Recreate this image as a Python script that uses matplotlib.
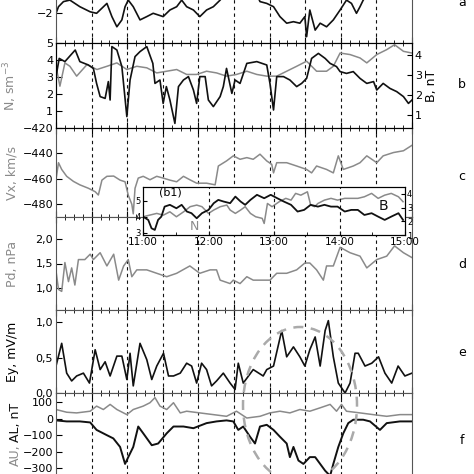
import numpy as np
import matplotlib
matplotlib.use("Agg")
import matplotlib.pyplot as plt
from matplotlib.patches import Ellipse

# values; x is in time units of the dashed grid (0..10)

bz_x = [0.00, 0.07, 0.21, 0.39, 0.67, 0.96, 1.14, 1.29, 1.43, 1.57, 1.71, 1.85, 1.94, 2.03, 2.17, 2.36, 2.55, 2.73, 3.01, 3.20, 3.39, 3.53, 3.67, 3.86, 4.04, 4.23, 4.42, 4.61, 5.0, 5.5, 5.73, 5.92, 6.11, 6.29, 6.48, 6.67, 6.85, 6.99, 7.04, 7.13, 7.28, 7.42, 7.60, 7.79, 7.98, 8.16, 8.30, 8.44, 8.54, 8.63, 9.0, 9.5, 10.0]
bz_y = [-2.01, -1.79, -1.62, -1.57, -1.79, -1.96, -2.01, -1.84, -1.68, -2.12, -2.46, -2.23, -1.79, -1.57, -1.79, -2.23, -2.12, -2.01, -2.12, -1.90, -1.79, -1.57, -1.79, -1.90, -2.12, -1.90, -1.79, -1.57, -1.0, -1.0, -1.62, -1.68, -1.79, -2.12, -2.34, -2.29, -2.34, -2.12, -2.79, -1.90, -2.57, -2.34, -2.46, -2.23, -1.90, -1.57, -1.68, -2.01, -1.79, -1.57, -1.0, -1.0, -1.0]

b_x = [0.00, 0.09, 0.25, 0.54, 0.67, 0.91, 1.05, 1.14, 1.24, 1.38, 1.47, 1.52, 1.57, 1.71, 1.85, 1.99, 2.08, 2.22, 2.36, 2.55, 2.72, 2.78, 2.92, 3.01, 3.10, 3.20, 3.34, 3.44, 3.58, 3.72, 3.86, 3.95, 4.04, 4.19, 4.28, 4.42, 4.61, 4.70, 4.79, 4.94, 5.03, 5.17, 5.36, 5.64, 5.92, 6.01, 6.11, 6.20, 6.39, 6.57, 6.76, 6.90, 7.04, 7.18, 7.37, 7.56, 7.70, 7.88, 7.98, 8.16, 8.35, 8.54, 8.73, 8.92, 9.01, 9.19, 9.38, 9.57, 9.76, 9.90, 10.00]
b_y = [2.92, 3.83, 3.67, 4.25, 3.67, 3.50, 3.33, 2.58, 1.92, 1.83, 2.67, 1.75, 4.42, 4.25, 3.42, 0.92, 2.75, 3.92, 4.17, 4.42, 3.58, 2.58, 2.75, 1.58, 2.42, 1.75, 0.58, 2.42, 2.75, 2.92, 2.25, 1.58, 2.92, 2.92, 1.75, 1.42, 1.92, 2.42, 3.33, 2.08, 2.75, 2.58, 3.58, 3.67, 3.50, 2.58, 1.25, 2.92, 2.92, 2.75, 2.42, 2.58, 2.83, 3.83, 4.08, 3.83, 3.58, 3.42, 3.17, 3.08, 3.17, 2.83, 2.58, 2.67, 2.25, 2.58, 2.33, 2.17, 1.92, 1.58, 1.75]

n_x = [0.00, 0.11, 0.25, 0.39, 0.58, 0.87, 1.15, 1.43, 1.71, 1.99, 2.27, 2.55, 2.83, 3.11, 3.39, 3.67, 3.95, 4.23, 4.51, 4.79, 5.07, 5.36, 5.64, 5.92, 6.20, 6.48, 6.76, 7.04, 7.32, 7.60, 7.79, 7.98, 8.26, 8.54, 8.73, 9.01, 9.29, 9.51, 9.76, 10.00]
n_y = [3.63, 2.46, 3.83, 3.63, 3.05, 3.73, 3.44, 3.63, 3.83, 3.44, 3.63, 3.54, 3.24, 3.34, 3.44, 3.15, 3.15, 3.34, 3.24, 3.05, 3.15, 3.34, 3.15, 3.05, 3.05, 3.34, 3.63, 3.93, 3.34, 3.34, 3.63, 4.41, 4.32, 4.12, 3.83, 4.32, 4.61, 4.90, 4.51, 4.41]

vx_x = [0.00, 0.07, 0.16, 0.30, 0.49, 0.67, 0.91, 1.10, 1.19, 1.29, 1.43, 1.62, 1.80, 1.94, 2.03, 2.13, 2.17, 2.22, 2.31, 2.45, 2.64, 2.83, 3.01, 3.20, 3.39, 3.58, 3.76, 3.95, 4.23, 4.47, 4.56, 4.79, 4.98, 5.17, 5.36, 5.54, 5.73, 5.92, 6.06, 6.11, 6.20, 6.48, 6.76, 7.04, 7.18, 7.32, 7.60, 7.79, 7.93, 8.07, 8.35, 8.54, 8.73, 9.01, 9.19, 9.48, 9.76, 10.00]
vx_y = [-460.6, -447.3, -452.6, -458.0, -462.0, -464.7, -467.4, -470.1, -472.7, -461.0, -458.0, -457.8, -461.0, -462.3, -472.9, -480.0, -487.5, -467.4, -459.4, -458.0, -460.7, -458.0, -459.4, -461.0, -462.3, -458.0, -460.7, -463.4, -463.4, -464.7, -449.9, -445.9, -441.9, -444.6, -443.3, -444.6, -440.6, -445.9, -448.6, -455.3, -447.3, -447.3, -449.9, -452.6, -455.3, -449.9, -452.6, -455.3, -441.9, -452.6, -449.9, -447.3, -441.9, -447.3, -441.9, -439.3, -437.9, -433.6]

pd_x = [0.00, 0.07, 0.16, 0.25, 0.35, 0.44, 0.53, 0.63, 0.81, 0.96, 1.05, 1.24, 1.43, 1.62, 1.76, 1.90, 2.03, 2.13, 2.27, 2.55, 2.83, 3.11, 3.39, 3.76, 4.04, 4.33, 4.51, 4.61, 4.89, 4.98, 5.17, 5.36, 5.54, 5.73, 6.01, 6.20, 6.48, 6.76, 6.99, 7.13, 7.32, 7.51, 7.60, 7.79, 7.98, 8.26, 8.54, 8.73, 9.01, 9.29, 9.51, 9.76, 10.00]
pd_y = [1.35, 0.97, 0.93, 1.52, 1.13, 1.41, 1.06, 1.58, 1.58, 1.69, 1.58, 1.72, 1.45, 1.69, 1.16, 1.45, 1.58, 1.23, 1.37, 1.37, 1.30, 1.23, 1.30, 1.45, 1.30, 1.37, 1.37, 1.16, 1.09, 1.16, 1.09, 1.23, 1.16, 1.16, 1.16, 1.30, 1.30, 1.37, 1.51, 1.51, 1.37, 1.16, 1.45, 1.45, 1.83, 1.72, 1.65, 1.41, 1.58, 1.65, 1.86, 1.72, 1.62]

ey_x = [0.00, 0.16, 0.30, 0.44, 0.58, 0.77, 0.94, 1.10, 1.24, 1.38, 1.52, 1.71, 1.85, 1.99, 2.08, 2.17, 2.36, 2.55, 2.69, 2.83, 3.02, 3.16, 3.30, 3.49, 3.67, 3.81, 3.95, 4.09, 4.23, 4.37, 4.51, 4.70, 4.89, 5.03, 5.12, 5.26, 5.54, 5.82, 5.92, 6.11, 6.34, 6.48, 6.67, 6.85, 6.99, 7.13, 7.28, 7.42, 7.56, 7.65, 7.79, 7.93, 8.12, 8.26, 8.40, 8.49, 8.68, 8.87, 9.06, 9.24, 9.43, 9.61, 9.80, 10.00]
ey_y = [0.38, 0.70, 0.28, 0.17, 0.24, 0.28, 0.14, 0.61, 0.33, 0.44, 0.24, 0.52, 0.52, 0.19, 0.56, 0.10, 0.70, 0.47, 0.19, 0.38, 0.56, 0.24, 0.24, 0.28, 0.42, 0.38, 0.14, 0.42, 0.33, 0.10, 0.17, 0.28, 0.14, 0.05, 0.42, 0.14, 0.33, 0.24, 0.33, 0.38, 0.88, 0.51, 0.65, 0.51, 0.38, 0.61, 0.79, 0.38, 0.88, 1.02, 0.51, 0.14, 0.00, 0.14, 0.56, 0.56, 0.38, 0.42, 0.51, 0.28, 0.14, 0.38, 0.24, 0.28]

au_x = [0.00, 0.30, 0.58, 0.96, 1.14, 1.33, 1.52, 1.71, 1.99, 2.17, 2.45, 2.64, 2.78, 2.92, 3.11, 3.30, 3.49, 3.67, 4.04, 4.42, 4.79, 5.07, 5.36, 5.73, 6.01, 6.29, 6.57, 6.85, 7.13, 7.42, 7.70, 7.88, 8.02, 8.16, 8.54, 8.91, 9.29, 9.66, 10.00]
au_y = [55.4, 39.0, 34.9, 45.1, 75.9, 55.4, 86.2, 55.4, 24.6, 55.4, 75.9, 96.4, 127.2, 75.9, 55.4, 96.4, 34.9, 45.1, 34.9, 24.6, 14.4, 45.1, 4.1, 14.4, 34.9, 45.1, 34.9, 55.4, 45.1, 65.6, 86.2, 45.1, 86.2, 45.1, 34.9, 24.6, 14.4, 24.6, 24.6]

al_x = [0.00, 0.30, 0.67, 0.96, 1.14, 1.42, 1.61, 1.80, 1.94, 2.03, 2.17, 2.31, 2.45, 2.69, 2.87, 3.11, 3.30, 3.58, 3.86, 4.23, 4.51, 4.79, 4.98, 5.12, 5.26, 5.45, 5.59, 5.73, 5.92, 6.11, 6.29, 6.48, 6.57, 6.67, 6.81, 6.95, 7.13, 7.28, 7.42, 7.56, 7.70, 7.79, 7.93, 8.07, 8.21, 8.35, 8.63, 8.82, 9.10, 9.29, 9.66, 10.00]
al_y = [-10.3, -16.4, -16.4, -22.6, -67.7, -98.5, -118.9, -170.3, -272.8, -231.8, -170.3, -47.2, -88.2, -160.0, -149.7, -88.2, -47.2, -47.2, -57.4, -26.7, -16.4, -10.3, -16.4, -67.7, -47.2, -108.7, -149.7, -47.2, -36.9, -67.7, -108.7, -149.7, -231.8, -170.3, -252.3, -272.8, -231.8, -231.8, -272.8, -313.8, -344.6, -272.8, -170.3, -88.2, -26.7, -6.2, -6.2, -16.4, -67.7, -26.7, -16.4, -16.4]

# inset (b1): hours 11..15
ib_x = [11.00, 11.08, 11.13, 11.18, 11.23, 11.28, 11.33, 11.41, 11.51, 11.59, 11.67, 11.74, 11.82, 11.90, 12.00, 12.08, 12.15, 12.23, 12.33, 12.41, 12.49, 12.56, 12.64, 12.74, 12.85, 12.95, 13.05, 13.15, 13.26, 13.36, 13.46, 13.56, 13.67, 13.77, 13.87, 13.97, 14.08, 14.18, 14.28, 14.38, 14.49, 14.59, 14.69, 14.79, 14.90, 14.97]
ib_y = [2.34, 2.10, 1.49, 1.37, 2.10, 2.34, 3.07, 3.20, 2.95, 3.20, 2.71, 2.59, 2.22, 2.59, 2.83, 3.32, 3.56, 3.44, 3.32, 3.80, 3.44, 3.20, 3.56, 3.93, 3.68, 3.93, 3.68, 3.44, 3.20, 2.71, 2.83, 3.20, 3.07, 3.20, 3.07, 3.07, 2.71, 2.83, 2.83, 2.46, 2.59, 2.34, 2.10, 2.34, 2.59, 2.10]

in_x = [11.00, 11.10, 11.21, 11.31, 11.41, 11.51, 11.62, 11.72, 11.82, 11.90, 12.00, 12.08, 12.18, 12.28, 12.33, 12.41, 12.49, 12.56, 12.64, 12.72, 12.82, 12.85, 12.90, 12.97, 13.08, 13.18, 13.26, 13.33, 13.41, 13.51, 13.56, 13.62, 13.67, 13.77, 13.87, 13.97, 14.08, 14.18, 14.28, 14.38, 14.49, 14.59, 14.69, 14.79, 14.90, 14.97]
in_y = [4.00, 4.10, 4.21, 4.10, 4.31, 4.00, 4.31, 4.63, 4.73, 4.63, 4.21, 4.42, 4.63, 4.73, 4.42, 4.21, 4.42, 4.63, 4.21, 4.00, 3.90, 3.58, 4.83, 4.63, 4.94, 5.15, 5.04, 5.46, 5.35, 5.56, 4.73, 4.63, 4.83, 5.04, 5.15, 5.04, 5.15, 5.15, 5.15, 5.25, 5.46, 5.15, 5.35, 5.46, 5.25, 4.94]

BLACK = "#111111"
GREY = "#8a8a8a"
W = H = 474

fig = plt.figure(figsize=(4.74, 4.74), dpi=100)


def rect(x0, y0, x1, y1):
    return [x0 / W, 1 - y1 / H, (x1 - x0) / W, (y1 - y0) / H]


def style(ax):
    ax.set_xlim(0, 10)
    ax.set_xticks(range(11))
    ax.set_xticks(np.arange(0, 10.01, 0.25), minor=True)
    ax.tick_params(direction="in", labelsize=8, length=4, top=True, pad=2)
    ax.tick_params(which="minor", direction="in", length=2, top=True)
    ax.set_xticklabels([])
    for s in ax.spines.values():
        s.set_color("#555555")
    for k in range(1, 10):
        ax.axvline(k, color=BLACK, ls=(0, (3, 3)), lw=0.8)
    ax.yaxis.set_label_coords(-0.105, 0.5)


x0, x1 = 56, 412
axa = fig.add_axes(rect(x0, -77, x1, 43))
axb = fig.add_axes(rect(x0, 43, x1, 128))
axc = fig.add_axes(rect(x0, 128, x1, 217))
axd = fig.add_axes(rect(x0, 217, x1, 310))
axe = fig.add_axes(rect(x0, 310, x1, 393))
axf = fig.add_axes(rect(x0, 393, x1, 485))
for ax in (axa, axb, axc, axd, axe, axf):
    style(ax)

axa.plot(bz_x, bz_y, color=BLACK, lw=1.2)
axa.set_ylim(-3, 1)
axa.set_yticks([-2])
axa.set_ylabel("Bz", fontsize=9)
axa.yaxis.set_label_coords(-0.105, 0.75)

axb.plot(n_x, n_y, color=GREY, lw=1.1)
axb.set_ylim(0, 5)
axb.set_yticks([1, 2, 3, 4, 5])
axb.set_ylabel("N, sm$^{-3}$", color=GREY, fontsize=9)
axb2 = axb.twinx()
axb2.plot(b_x, b_y, color=BLACK, lw=1.2)
axb2.set_ylim(0.35, 4.6)
axb2.set_yticks([1, 2, 3, 4])
axb2.tick_params(direction="in", labelsize=8, pad=2)
axb2.set_ylabel("B, nT", fontsize=9, labelpad=2)

axc.plot(vx_x, vx_y, color=GREY, lw=1.1)
axc.set_ylim(-490, -420)
axc.set_yticks([-480, -460, -440, -420])
axc.set_ylabel("Vx, km/s", color=GREY, fontsize=9)

axd.plot(pd_x, pd_y, color=GREY, lw=1.1)
axd.set_ylim(0.55, 2.45)
axd.set_yticks([1.0, 1.5, 2.0])
axd.set_yticklabels(["1,0", "1,5", "2,0"])
axd.set_ylabel("Pd, nPa", color=GREY, fontsize=9)

axe.plot(ey_x, ey_y, color=BLACK, lw=1.2)
axe.set_ylim(0, 1.17)
axe.set_yticks([0.0, 0.5, 1.0])
axe.set_yticklabels(["0,0", "0,5", "1,0"])
axe.set_ylabel("Ey, mV/m", fontsize=9)

axf.plot(au_x, au_y, color=GREY, lw=1.1)
axf.plot(al_x, al_y, color=BLACK, lw=1.4)
axf.set_ylim(-400, 155)
axf.set_yticks([-300, -200, -100, 0, 100])
fig.text(15 / W, 1 - 455 / H, "AU,", color=GREY, rotation=90, fontsize=9, va="center", ha="center")
fig.text(15 / W, 1 - 422 / H, "AL, nT", color=BLACK, rotation=90, fontsize=9, va="center", ha="center")

for lab, y in zip("abcdef", [3, 85, 177, 265, 352, 440]):
    fig.text(462 / W, 1 - y / H, lab, fontsize=9, ha="center", va="center")

# inset b1
axi = fig.add_axes(rect(143, 187, 405, 235))
axi.plot(in_x, in_y, color=GREY, lw=1.1)
axi.set_xlim(11, 15)
axi.set_ylim(2.86, 5.86)
axi.set_yticks([3, 4, 5])
axi.set_xticks([11, 12, 13, 14, 15])
axi.set_xticklabels(["11:00", "12:00", "13:00", "14:00", "15:00"])
axi.set_xticks(np.arange(11, 15.01, 0.5), minor=True)
axi.tick_params(direction="in", labelsize=6, length=3, pad=1.5)
axi.tick_params(axis="x", labelsize=7.5)
axi.tick_params(which="minor", direction="in", length=2)
for k in (12, 13, 14):
    axi.axvline(k, color=BLACK, ls=(0, (3, 3)), lw=0.8)
axi2 = axi.twinx()
axi2.plot(ib_x, ib_y, color=BLACK, lw=1.3)
axi2.set_ylim(1.0, 4.5)
axi2.set_yticks([1, 2, 3, 4])
axi2.tick_params(direction="in", labelsize=6, length=3, pad=1.5)
axi.text(0.06, 0.82, "(b1)", transform=axi.transAxes, fontsize=8)
axi.text(0.18, 0.1, "N", transform=axi.transAxes, fontsize=9, color=GREY)
axi.text(0.90, 0.52, "B", transform=axi.transAxes, fontsize=10, color=BLACK)

# dashed ellipse spanning panels e and f
fig.patches.append(Ellipse((300 / W, 1 - 405 / H), 114 / W, 156 / H, transform=fig.transFigure,
                           fill=False, ec="#aaaaaa", ls=(0, (4, 3)), lw=1.8))

fig.savefig("out.png", dpi=100)
